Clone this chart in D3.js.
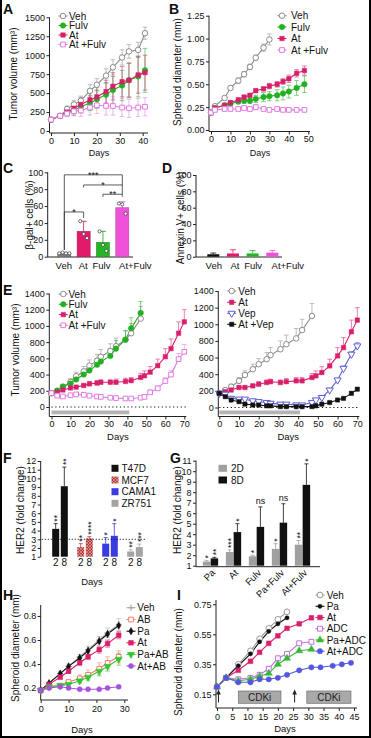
<!DOCTYPE html>
<html><head><meta charset="utf-8">
<script src="https://cdn.jsdelivr.net/npm/d3@7"></script>
<style>
html,body{margin:0;padding:0;background:#fff;}
svg{display:block;}
</style></head><body>
<svg id="fig" width="371" height="738"></svg>
<script>
// ================= DATA =================
// Panel A – tumor volume (mm3)
const aDays = [0,4,7,10,13,17,20,24,27,31,34,38,41];
const aVeh = [150,200,290,350,400,530,610,730,840,970,1050,1070,1290];
const aVehErr = [10,20,40,50,60,80,80,90,100,100,90,100,80];
const aFulv = [150,200,240,270,320,370,420,480,540,600,670,720,800];
const aFulvErr = [10,20,40,60,80,100,120,150,180,200,230,270,290];
const aAt = [150,200,250,300,350,410,450,520,590,650,670,740,770];
const aAtErr = [10,20,40,60,90,110,130,150,180,200,220,240,230];
const aAtFulv = [150,200,230,260,270,310,340,330,330,310,300,310,320];
const aAtFulvErr = [10,20,40,60,80,100,110,120,120,120,120,120,120];
const aXTicks = [0,10,20,30,40];
const aYTicks = [0,250,500,750,1000,1250,1500];

// Panel B – spheroid diameter (mm)
const bVehDays = [0,2,7,10,14,17,20,23,27,30];
const bVeh = [0.19,0.26,0.35,0.46,0.54,0.61,0.69,0.79,0.90,0.99];
const bVehErr = [0.01,0.02,0.02,0.02,0.03,0.03,0.03,0.03,0.04,0.06];
const bDays = [0,2,7,10,14,17,20,23,27,30,34,37,40,44,48];
const bFulv = [0.19,0.24,0.27,0.29,0.31,0.32,0.32,0.34,0.36,0.37,0.38,0.40,0.42,0.46,0.50];
const bFulvErr = [0.01,0.02,0.02,0.02,0.02,0.03,0.03,0.04,0.05,0.05,0.06,0.07,0.07,0.08,0.09];
const bAt = [0.19,0.24,0.27,0.30,0.33,0.36,0.38,0.43,0.45,0.48,0.50,0.53,0.56,0.62,0.65];
const bAtErr = [0.01,0.01,0.01,0.02,0.02,0.02,0.02,0.02,0.02,0.03,0.03,0.03,0.04,0.04,0.05];
const bAtFulv = [0.19,0.22,0.23,0.23,0.23,0.24,0.23,0.25,0.23,0.22,0.23,0.22,0.22,0.22,0.22];
const bAtFulvErr = [0.01,0.02,0.02,0.02,0.02,0.02,0.02,0.03,0.02,0.02,0.02,0.02,0.02,0.02,0.02];
const bXTicks = [0,10,20,30,40,50];
const bYTicks = [0,0.25,0.5,0.75,1.0,1.25];

// Panel C – beta-gal+ cells (%)
const cCats = ["Veh","At","Fulv","At+Fulv"];
const cMeans = [4,30,17,58];
const cErr = [1,12,13,7];
const cPoints = [[4,5,4,4],[42,27,22],[30,14,7],[63,62,51]];
const cSig = [["Veh","At+Fulv","***"],["At","At+Fulv","*"],["Fulv","At+Fulv","**"],["Veh","At","*"]];
const cYTicks = [0,20,40,60,80,100];

// Panel D – Annexin V+ cells (%)
const dMeans = [3,4,4,5];
const dErr = [1.5,4.5,3.5,2.5];

// Panel E – tumor volume, left and right
const eDaysShort = [0,3,6,10,13,17,20,24,26,31,34,39,42,47];
const eDaysLong = [0,3,6,10,13,17,20,24,26,31,34,39,42,47,49,52,56,60,63,67,70];
const eVehL = [170,200,250,310,380,440,510,570,620,690,750,830,910,1090];
const eVehLErr = [10,20,30,40,50,60,70,80,90,90,100,110,120,150];
const eFulvL = [170,200,250,290,340,400,450,520,560,630,720,830,970,1160];
const eFulvLErr = [10,20,20,30,40,50,60,70,80,90,100,110,130,140];
const eAtL = [170,180,210,235,245,265,285,295,305,305,305,315,325,365,385,430,510,620,720,910,1050];
const eAtLErr = [10,20,20,20,20,20,30,30,30,30,40,40,40,50,60,70,80,100,120,140,150];
const eAtFulvL = [170,140,130,145,155,150,140,130,125,115,110,105,105,115,125,180,230,320,400,590,680];
const eAtFulvLErr = [10,10,10,10,10,10,10,10,10,10,10,10,10,20,20,30,30,40,50,70,90];
const eVehR = [170,210,250,320,390,460,520,580,630,700,760,830,930,1100];
const eVehRErr = [10,20,30,40,50,60,70,80,90,100,110,120,130,150];
const eAtR = [170,190,210,240,240,260,280,300,310,300,310,320,320,360,380,420,500,620,720,910,1050];
const eAtRErr = [10,20,20,20,20,20,30,30,30,30,40,40,40,50,60,70,80,100,120,140,150];
const eVepR = [170,160,110,100,100,80,70,60,50,40,40,30,30,60,90,120,210,330,470,640,740];
const eVepRErr = [10,10,10,10,10,10,10,10,10,10,10,10,10,10,10,20,20,20,30,30,40];
const eAtVepR = [170,130,90,70,40,30,30,20,20,10,10,10,10,10,20,40,60,90,110,170,220];
const eAtVepRErr = [10,10,10,10,10,10,10,10,10,10,10,10,10,10,10,10,10,10,10,20,20];
const eTreatment = [0,41];
const eXTicks = [0,10,20,30,40,50,60,70];
const eYTicks = [0,200,400,600,800,1000,1200,1400];

// Panel F – HER2 fold change by cell line
const fLines = ["T47D","MCF7","CAMA1","ZR751"];
const fDays = ["2","8"];
const fVals = [[4.2,9.1],[2.1,3.1],[2.5,3.4],[1.6,2.1]];
const fErr = [[0.6,2.2],[0.4,0.2],[0.7,1.4],[0.2,0.35]];
const fStars = [["**","**"],["**","****"],["*","*"],["**","***"]];
const fThreshold = 3;
const fYTicks = [1,2,3,4,5,6,7,8,9,10,11,12];

// Panel G – HER2 fold change by treatment
const gTreat = ["Pa","At","Fulv","Pa+Fulv","At+Fulv"];
const gSeries = ["2D","8D"];
const g2D = [1.4,2.3,1.9,2.6,3.0];
const g2DErr = [0.1,0.2,0.1,0.5,0.4];
const g8D = [1.7,4.2,4.7,5.1,8.7];
const g8DErr = [0.1,0.8,1.9,1.8,2.0];
const g2DStars = ["*","***","*","*","**"];
const g8DStars = ["**","*","ns","ns","*"];
const gYTicks = [1,2,3,4,5,6,7,8,9,10,11];

// Panel H – spheroid diameter (mm)
const hDays = [0,3,7,10,14,17,21,24,28];
const hVeh = [0.18,0.24,0.32,0.38,0.46,0.52,0.60,0.66,0.73];
const hVehErr = [0.01,0.01,0.02,0.02,0.02,0.03,0.03,0.04,0.05];
const hAB = [0.18,0.21,0.22,0.25,0.28,0.31,0.36,0.41,0.46];
const hABErr = [0.01,0.01,0.01,0.02,0.03,0.04,0.05,0.05,0.05];
const hPa = [0.18,0.24,0.32,0.38,0.45,0.51,0.59,0.65,0.72];
const hAt = [0.18,0.23,0.29,0.34,0.41,0.46,0.52,0.57,0.64];
const hAtErr = [0.01,0.01,0.01,0.02,0.02,0.02,0.03,0.03,0.03];
const hPaAB = [0.18,0.21,0.22,0.23,0.26,0.29,0.34,0.38,0.44];
const hPaABErr = [0.01,0.01,0.01,0.02,0.02,0.03,0.04,0.04,0.05];
const hAtAB = [0.18,0.20,0.21,0.20,0.19,0.19,0.19,0.20,0.21];
const hXTicks = [0,10,20,30];
const hYTicks = [0.2,0.4,0.6,0.8];

// Panel I – spheroid diameter (mm)
const iDays = [0,3,7,11,14,17,20,23,27,31,34,38,41,44];
const iVeh = [0.20,0.26,0.35,0.44,0.52,0.59,0.65,0.70];
const iPa = [0.20,0.26,0.34,0.42,0.50,0.57,0.62,0.66];
const iAt = [0.20,0.26,0.31,0.37,0.43,0.49,0.54,0.59,0.62,0.66];
const iADC = [0.20,0.26,0.25,0.26,0.28,0.32,0.39,0.42,0.49,0.50];
const iPaADC = [0.20,0.26,0.24,0.25,0.27,0.29,0.35,0.39,0.44,0.45];
const iAtADC = [0.20,0.26,0.23,0.23,0.25,0.25,0.26,0.28,0.31,0.33,0.33,0.34,0.35,0.36];
const iADCdoses = [0,25];
const iCDKi = [[7,21],[29.5,44]];
const iXTicks = [0,5,10,15,20,25,30,35,40,45];
const iYTicks = [0.15,0.35,0.55,0.75];

// ================= STYLE / HELPERS =================
const FONT = '"Liberation Sans", Arial, Helvetica, sans-serif';
const AX = '#222';
const C_VEH = '#8c8c8c', C_FULV = '#22b022', C_AT = '#d81f6b', C_ATF = '#e07ce0',
      C_VEP = '#5b5bd6', C_BLK = '#111111';

const svg = d3.select('#fig').attr('font-family', FONT);
const defs = svg.append('defs');
const pat = defs.append('pattern').attr('id','hatch').attr('patternUnits','userSpaceOnUse')
  .attr('width',3).attr('height',3);
pat.append('rect').attr('width',3).attr('height',3).attr('fill','#b53c3c');
pat.append('path').attr('d','M0,0L3,3M3,0L0,3').attr('stroke','#eeaaa4').attr('stroke-width',0.6);

function symPath(shape, size) {
  const s = size || 24;
  if (shape === 'plus') { const r = Math.sqrt(s)/1.5; return `M${-r},0H${r}M0,${-r}V${r}`; }
  const t = {circle:d3.symbolCircle, square:d3.symbolSquare, triUp:d3.symbolTriangle,
             triDown:d3.symbolTriangle, diamond:d3.symbolDiamond}[shape];
  return d3.symbol(t, s)();
}
function marker(g, x, y, s) {
  g.append('path').attr('d', symPath(s.shape, s.size))
    .attr('transform', `translate(${x},${y})` + (s.shape==='triDown' ? ' rotate(180)' : ''))
    .attr('fill', (s.open || s.shape==='plus') ? (s.shape==='plus' ? 'none' : '#fff') : s.color)
    .attr('stroke', s.color).attr('stroke-width', s.shape==='plus' ? 1.2 : (s.open ? 1 : 0.5));
}
function leftAxis(g, y, x0, ticks, fmt, yTop, yBot) {
  const a = g.append('g').attr('transform', `translate(${x0},0)`)
    .call(d3.axisLeft(y).tickValues(ticks).tickFormat(fmt).tickSize(3).tickPadding(1.5));
  a.select('.domain').remove();
  a.append('line').attr('y1', yTop).attr('y2', yBot).attr('stroke', AX);
  a.selectAll('.tick line').attr('stroke', AX);
  a.selectAll('text').attr('font-size', 9).attr('fill', '#111').attr('font-family', FONT);
  return a;
}
function bottomAxis(g, x, y0, ticks, fmt, xL, xR, pad) {
  const a = g.append('g').attr('transform', `translate(0,${y0})`)
    .call(d3.axisBottom(x).tickValues(ticks).tickFormat(fmt).tickSize(3).tickPadding(pad||1.5));
  a.select('.domain').remove();
  a.append('line').attr('x1', xL).attr('x2', xR).attr('stroke', AX);
  a.selectAll('.tick line').attr('stroke', AX);
  a.selectAll('text').attr('font-size', 9).attr('fill', '#111').attr('font-family', FONT);
  return a;
}
function text(g, x, y, s, size, opts) {
  opts = opts || {};
  const t = g.append('text').attr('x', x).attr('y', y).text(s).attr('font-size', size)
    .attr('fill', opts.fill || '#111').attr('font-family', FONT);
  if (opts.anchor) t.attr('text-anchor', opts.anchor);
  if (opts.bold) t.attr('font-weight', 'bold');
  if (opts.dy) t.attr('dy', opts.dy);
  return t;
}
function yTitle(g, x, y, s) {
  return g.append('text').attr('transform', `translate(${x},${y}) rotate(-90)`)
    .attr('text-anchor', 'middle').attr('dy', '0.35em').attr('font-size', 10)
    .attr('fill', '#111').attr('font-family', FONT).text(s);
}
function letter(g, x, y, s) { return text(g, x, y, s, 14, {bold: true}); }

function drawSeries(g, x, y, series, errMode) {
  series.forEach(s => {
    if (!s.err) return;
    s.days.forEach((d, i) => {
      const v = s.vals[i], e = s.err[i];
      if (!e) return;
      const cx = x(d), top = y(v + e), bot = errMode === 'up' ? y(v) : y(v - e);
      const eg = g.append('g').attr('stroke', s.color).attr('stroke-width', 0.8).attr('opacity', 0.7);
      eg.append('line').attr('x1', cx).attr('x2', cx).attr('y1', top).attr('y2', bot);
      eg.append('line').attr('x1', cx - 2.3).attr('x2', cx + 2.3).attr('y1', top).attr('y2', top);
      if (errMode !== 'up') eg.append('line').attr('x1', cx - 2.3).attr('x2', cx + 2.3).attr('y1', bot).attr('y2', bot);
    });
  });
  series.forEach(s => {
    g.append('path').datum(d3.zip(s.days, s.vals))
      .attr('d', d3.line().x(d => x(d[0])).y(d => y(d[1])))
      .attr('fill', 'none').attr('stroke', s.color).attr('stroke-width', 1.1);
  });
  series.forEach(s => s.days.forEach((d, i) => { if (i < s.vals.length) marker(g, x(d), y(s.vals[i]), s); }));
}
function lineLegend(g, series, mx, tx, ys, half) {
  half = half || 4.5;
  series.forEach((s, i) => {
    g.append('line').attr('x1', mx - half).attr('x2', mx + half).attr('y1', ys[i]).attr('y2', ys[i])
      .attr('stroke', s.color).attr('stroke-width', 1.1);
    marker(g, mx, ys[i], s);
    text(g, tx, ys[i], s.name, 10, {dy: '0.35em'});
  });
}
const fmtD = d3.format('d');

// ================= PANEL A =================
{
  const g = svg.append('g');
  const x = d3.scaleLinear([0, 42], [51, 147.3]);
  const y = d3.scaleLinear([0, 1500], [131, 17.3]);
  leftAxis(g, y, 49.5, aYTicks, fmtD, 17.3, 133);
  bottomAxis(g, x, 133, aXTicks, fmtD, 49.5, 148);
  const series = [
    {name:'Veh', days:aDays, vals:aVeh, err:aVehErr, color:C_VEH, shape:'circle', open:true},
    {name:'Fulv', days:aDays, vals:aFulv, err:aFulvErr, color:C_FULV, shape:'circle'},
    {name:'At', days:aDays, vals:aAt, err:aAtErr, color:C_AT, shape:'square', size:20},
    {name:'At +Fulv', days:aDays, vals:aAtFulv, err:aAtFulvErr, color:C_ATF, shape:'square', open:true, size:22}
  ];
  drawSeries(g, x, y, series, 'both');
  lineLegend(g, series, 63, 69, [16, 25.5, 35, 44.5]);
  yTitle(g, 13, 74, 'Tumor volume (mm³)');
  text(g, 99, 156, 'Days', 9, {anchor:'middle'});
  letter(g, 3, 14, 'A');
}

// ================= PANEL B =================
{
  const g = svg.append('g');
  const x = d3.scaleLinear([0, 50], [211, 308.3]);
  const y = d3.scaleLinear([0, 1.25], [130, 15.7]);
  leftAxis(g, y, 209, bYTicks, d3.format('.2f'), 15.7, 131.5);
  bottomAxis(g, x, 131.5, bXTicks, fmtD, 209, 310);
  const series = [
    {name:'Veh', days:bVehDays, vals:bVeh, err:bVehErr, color:C_VEH, shape:'circle', open:true},
    {name:'Fulv', days:bDays, vals:bFulv, err:bFulvErr, color:C_FULV, shape:'circle'},
    {name:'At', days:bDays, vals:bAt, err:bAtErr, color:C_AT, shape:'square', size:20},
    {name:'At +Fulv', days:bDays, vals:bAtFulv, err:bAtFulvErr, color:C_ATF, shape:'square', open:true, size:22}
  ];
  drawSeries(g, x, y, series, 'both');
  lineLegend(g, series, 282, 291, [15.7, 27, 38.5, 50]);
  yTitle(g, 177, 72, 'Spheroid diameter (mm)');
  text(g, 260, 156, 'Days', 9, {anchor:'middle'});
  letter(g, 169, 14, 'B');
}

// category-label nudges (layout only), C and D
const cLabelDx = [-1, -1, -2, 12.5];
const dLabelDx = [0, 1.5, 0, 15];

// ================= PANEL C =================
const barColors = ['#7f7f7f', '#e3196b', '#23b523', '#ee52d8'];
{
  const g = svg.append('g');
  const x = d3.scalePoint(cCats, [64.3, 122.3]);
  const y = d3.scaleLinear([0, 100], [256.7, 172.3]);
  leftAxis(g, y, 47.7, cYTicks, fmtD, 172.3, 257);
  const xa = bottomAxis(g, x, 257, cCats, d => d, 47.7, 133, 2.5);
  xa.selectAll('.tick line').remove();
  xa.selectAll('text').attr('font-size', 9.5).attr('dx', (d, i) => cLabelDx[i]);
  const bw = 13;
  cCats.forEach((c, i) => {
    const cx = x(c), col = barColors[i];
    g.append('rect').attr('x', cx - bw/2).attr('y', y(cMeans[i])).attr('width', bw)
      .attr('height', y(0) - y(cMeans[i])).attr('fill', col).attr('stroke', d3.color(col).darker(0.6)).attr('stroke-width', 0.6);
    const top = y(cMeans[i] + cErr[i]);
    g.append('line').attr('x1', cx).attr('x2', cx).attr('y1', top).attr('y2', y(cMeans[i])).attr('stroke', d3.color(col).darker(0.4)).attr('stroke-width', 0.8);
    g.append('line').attr('x1', cx - 3).attr('x2', cx + 3).attr('y1', top).attr('y2', top).attr('stroke', d3.color(col).darker(0.4)).attr('stroke-width', 0.8);
    const pts = cPoints[i], n = pts.length;
    pts.forEach((v, j) => {
      g.append('circle').attr('cx', cx + (j - (n - 1)/2) * 3.4).attr('cy', y(v)).attr('r', 1.6)
        .attr('fill', '#fff').attr('stroke', '#333').attr('stroke-width', 0.7);
    });
  });
  // significance brackets: [level, left-leg end, right-leg end] in axis units
  const lv = [[97, 8, 85], [85, 82, 74], [74, 71, 71], [53, 8, 46]];
  cSig.forEach((s, k) => {
    const x1 = x(s[0]), x2 = x(s[1]), yy = y(lv[k][0]);
    g.append('path').attr('d', `M${x1},${y(lv[k][1])}V${yy}H${x2}V${y(lv[k][2])}`)
      .attr('fill', 'none').attr('stroke', '#333').attr('stroke-width', 0.8);
    text(g, (x1 + x2)/2, yy + 3, s[2], 9, {anchor:'middle'});
  });
  yTitle(g, 29, 215, 'β-gal+ cells (%)');
  letter(g, 3, 173, 'C');
}

// ================= PANEL D =================
{
  const g = svg.append('g');
  const x = d3.scalePoint(cCats, [213.3, 272.3]);
  const y = d3.scaleLinear([0, 100], [256.7, 175]);
  leftAxis(g, y, 196, cYTicks, fmtD, 175, 257);
  const xa = bottomAxis(g, x, 257, cCats, d => d, 196, 282, 2.5);
  xa.selectAll('.tick line').remove();
  xa.selectAll('text').attr('font-size', 9.5).attr('dx', (d, i) => dLabelDx[i]);
  const dColors = ['#111', '#e3196b', '#23b523', '#ee52d8'];
  const bw = 12;
  cCats.forEach((c, i) => {
    const cx = x(c), col = dColors[i];
    g.append('rect').attr('x', cx - bw/2).attr('y', y(dMeans[i])).attr('width', bw)
      .attr('height', y(0) - y(dMeans[i])).attr('fill', col);
    const top = y(dMeans[i] + dErr[i]);
    g.append('line').attr('x1', cx).attr('x2', cx).attr('y1', top).attr('y2', y(dMeans[i])).attr('stroke', col).attr('stroke-width', 0.8);
    g.append('line').attr('x1', cx - 3).attr('x2', cx + 3).attr('y1', top).attr('y2', top).attr('stroke', col).attr('stroke-width', 0.8);
  });
  yTitle(g, 180, 218, 'Annexin V+ cells (%)');
  letter(g, 162, 173, 'D');
}

// ================= PANEL E =================
function ePanel(cfg) {
  const g = svg.append('g');
  const x = d3.scaleLinear([0, 70], cfg.xr);
  const y = d3.scaleLinear([0, 1400], cfg.yr);
  leftAxis(g, y, cfg.ax, eYTicks, fmtD, cfg.yr[1], 416.5);
  bottomAxis(g, x, 416.5, eXTicks, fmtD, cfg.ax, cfg.xr[1] + 2);
  g.append('line').attr('x1', x(0)).attr('x2', x(70) + 2).attr('y1', y(0)).attr('y2', y(0))
    .attr('stroke', '#111').attr('stroke-width', 1).attr('stroke-dasharray', '1.2,2.6');
  g.append('rect').attr('x', x(eTreatment[0])).attr('y', 410.5).attr('width', x(eTreatment[1]) - x(eTreatment[0]))
    .attr('height', 3.8).attr('fill', '#b4b4b4');
  drawSeries(g, x, y, cfg.series, 'up');
  lineLegend(g, cfg.series, cfg.lx, cfg.tx, cfg.ly);
  text(g, (cfg.xr[0] + cfg.xr[1])/2, 440, 'Days', 9.5, {anchor:'middle'});
  return g;
}
{
  const g = ePanel({xr:[51.5, 184.3], yr:[407, 293.5], ax:49.3, lx:63.3, tx:68.5, ly:[294, 304.3, 314.6, 325.3],
    series:[
      {name:'Veh', days:eDaysShort, vals:eVehL, err:eVehLErr, color:C_VEH, shape:'circle', open:true},
      {name:'Fulv', days:eDaysShort, vals:eFulvL, err:eFulvLErr, color:C_FULV, shape:'circle'},
      {name:'At', days:eDaysLong, vals:eAtL, err:eAtLErr, color:C_AT, shape:'square', size:20},
      {name:'At +Fulv', days:eDaysLong, vals:eAtFulvL, err:eAtFulvLErr, color:C_ATF, shape:'square', open:true, size:22}
    ]});
  yTitle(g, 15, 350, 'Tumor volume (mm³)');
  letter(g, 3, 295, 'E');
  ePanel({xr:[219.3, 357.3], yr:[407.5, 291], ax:218.3, lx:231.7, tx:238.3, ly:[291, 302.3, 313.3, 324.3],
    series:[
      {name:'Veh', days:eDaysShort, vals:eVehR, err:eVehRErr, color:C_VEH, shape:'circle', open:true},
      {name:'At', days:eDaysLong, vals:eAtR, err:eAtRErr, color:C_AT, shape:'square', size:20},
      {name:'Vep', days:eDaysLong, vals:eVepR, err:eVepRErr, color:C_VEP, shape:'triDown', open:true, size:22},
      {name:'At +Vep', days:eDaysLong, vals:eAtVepR, err:eAtVepRErr, color:C_BLK, shape:'square', size:18}
    ]});
}

// ================= PANEL F =================
function vStar(g, x, yTop, s) {
  return g.append('text').attr('transform', `translate(${x},${yTop}) rotate(-90)`)
    .attr('dy', '0.56em').attr('font-size', 8.5).attr('fill', '#111').attr('font-family', FONT).text(s);
}
{
  const g = svg.append('g');
  const xg = d3.scaleBand(fLines, [47.5, 147.5]);
  const xi = d3.scalePoint(fDays, [-4.3, 4.3]);
  const y = d3.scaleLinear([1, 12], [556.7, 461]);
  leftAxis(g, y, 40.7, fYTicks, fmtD, 461, 557);
  const fFills = ['#111', 'url(#hatch)', '#3b3be2', '#a3a3a3'];
  const fStroke = ['#111', '#b53c3c', '#3b3be2', '#a3a3a3'];
  const bw = 7;
  fLines.forEach((ln, i) => {
    fDays.forEach((d, j) => {
      const cx = xg(ln) + xg.bandwidth()/2 + xi(d), v = fVals[i][j], e = fErr[i][j];
      g.append('rect').attr('x', cx - bw/2).attr('y', y(v)).attr('width', bw).attr('height', y(1) - y(v))
        .attr('fill', fFills[i]);
      const top = y(v + e);
      g.append('line').attr('x1', cx).attr('x2', cx).attr('y1', top).attr('y2', y(v)).attr('stroke', fStroke[i]).attr('stroke-width', 0.8);
      g.append('line').attr('x1', cx - 2).attr('x2', cx + 2).attr('y1', top).attr('y2', top).attr('stroke', fStroke[i]).attr('stroke-width', 0.8);
      vStar(g, cx, top - 2, fStars[i][j]);
      text(g, cx, 565.5, d, 10, {anchor:'middle'});
    });
  });
  g.append('line').attr('x1', 41.7).attr('x2', 146.7).attr('y1', y(fThreshold)).attr('y2', y(fThreshold))
    .attr('stroke', '#111').attr('stroke-width', 0.9).attr('stroke-dasharray', '1.2,1.8');
  const ly = [468.3, 480, 491.7, 503.3];
  fLines.forEach((ln, i) => {
    g.append('rect').attr('x', 111.5).attr('y', ly[i] - 3.5).attr('width', 7).attr('height', 7).attr('fill', fFills[i]);
    text(g, 121.5, ly[i], ln, 10, {dy:'0.35em'});
  });
  yTitle(g, 20, 510, 'HER2 (fold change)');
  text(g, 92, 585, 'Days', 9.5, {anchor:'middle'});
  letter(g, 3, 463, 'F');
}

// ================= PANEL G =================
{
  const g = svg.append('g');
  const xg = d3.scaleBand(gTreat, [199, 314]);
  const xi = d3.scalePoint(gSeries, [-3.9, 3.9]);
  const y = d3.scaleLinear([1, 11], [565.7, 460.7]);
  leftAxis(g, y, 196, gYTicks, fmtD, 460.7, 566.7);
  g.append('line').attr('x1', 196).attr('x2', 320).attr('y1', 566.7).attr('y2', 566.7).attr('stroke', AX);
  const vals = [g2D, g8D], errs = [g2DErr, g8DErr], stars = [g2DStars, g8DStars];
  const cols = ['#a0a0a0', '#111'];
  const bw = 7.5;
  gTreat.forEach((t, i) => {
    gSeries.forEach((sname, j) => {
      const cx = xg(t) + xg.bandwidth()/2 + xi(sname), v = vals[j][i], e = errs[j][i];
      g.append('rect').attr('x', cx - bw/2).attr('y', y(v)).attr('width', bw).attr('height', y(1) - y(v)).attr('fill', cols[j]);
      const top = y(v + e);
      g.append('line').attr('x1', cx).attr('x2', cx).attr('y1', top).attr('y2', y(v)).attr('stroke', cols[j]).attr('stroke-width', 0.8);
      g.append('line').attr('x1', cx - 2).attr('x2', cx + 2).attr('y1', top).attr('y2', top).attr('stroke', cols[j]).attr('stroke-width', 0.8);
      const st = stars[j][i];
      if (st === 'ns') text(g, cx, top - 2.5, st, 9, {anchor:'middle'});
      else vStar(g, cx, top - 2, st);
    });
    const c = xg(t) + xg.bandwidth()/2;
    g.append('text').attr('transform', `translate(${c + 3},${571}) rotate(-45)`).attr('text-anchor', 'end')
      .attr('dy', '0.35em').attr('font-size', 9.5).attr('fill', '#111').attr('font-family', FONT).text(t);
  });
  const ly = [468.3, 480];
  gSeries.forEach((sname, j) => {
    g.append('rect').attr('x', 218.5).attr('y', ly[j] - 3.5).attr('width', 8.5).attr('height', 7).attr('fill', cols[j]);
    text(g, 231, ly[j], sname, 10, {dy:'0.35em'});
  });
  yTitle(g, 177, 510, 'HER2 (fold change)');
  letter(g, 170, 463, 'G');
}

// ================= PANEL H =================
{
  const g = svg.append('g');
  const x = d3.scaleLinear([0, 30], [40.7, 124.3]);
  const y = d3.scaleLinear([0.1, 0.9], [700, 604]);
  leftAxis(g, y, 40.7, hYTicks, d3.format('.1f'), 605, 700);
  bottomAxis(g, x, 700, hXTicks, fmtD, 40.7, 128, 3);
  const series = [
    {name:'Veh', days:hDays, vals:hVeh, err:hVehErr, color:'#a8a8a8', shape:'plus', size:22},
    {name:'AB', days:hDays, vals:hAB, err:hABErr, color:'#f0806c', shape:'square', open:true, size:22},
    {name:'Pa', days:hDays, vals:hPa, color:C_BLK, shape:'diamond', size:16},
    {name:'At', days:hDays, vals:hAt, err:hAtErr, color:C_AT, shape:'square', size:22},
    {name:'Pa+AB', days:hDays, vals:hPaAB, err:hPaABErr, color:'#33c433', shape:'triDown', size:22},
    {name:'At+AB', days:hDays, vals:hAtAB, color:'#a552e0', shape:'circle', size:20}
  ];
  drawSeries(g, x, y, series, 'both');
  lineLegend(g, series, 131, 137.3, [607.7, 619.5, 631.2, 642.8, 654.4, 666]);
  yTitle(g, 15, 648, 'Spheroid diameter (mm)');
  text(g, 82, 733, 'Days', 9.5, {anchor:'middle'});
  letter(g, 3, 600, 'H');
}

// ================= PANEL I =================
{
  const g = svg.append('g');
  const x = d3.scaleLinear([0, 45], [217, 354]);
  const y = d3.scaleLinear([0.15, 0.75], [694.3, 604.3]);
  leftAxis(g, y, 216, iYTicks, d3.format('.2f'), 600, 708);
  bottomAxis(g, x, 708, iXTicks, fmtD, 216, 357, 3);
  iCDKi.forEach(p => {
    g.append('rect').attr('x', x(p[0])).attr('y', 691).attr('width', x(p[1]) - x(p[0])).attr('height', 12.3)
      .attr('fill', '#a9a9a9').attr('stroke', '#707070').attr('stroke-width', 0.7);
    text(g, (x(p[0]) + x(p[1]))/2, 697.2, 'CDKi', 10, {anchor:'middle', dy:'0.35em', fill:'#222'});
  });
  iADCdoses.forEach(d => {
    const ax = x(d) + 1.5;
    g.append('line').attr('x1', ax).attr('x2', ax).attr('y1', 702.5).attr('y2', 691).attr('stroke', '#222').attr('stroke-width', 1);
    g.append('path').attr('d', `M${ax - 2.3},${694.5}L${ax},${689.5}L${ax + 2.3},${694.5}Z`).attr('fill', '#222');
  });
  const series = [
    {name:'Veh', days:iDays.slice(0, iVeh.length), vals:iVeh, color:'#9a9a9a', shape:'circle', open:true, size:26},
    {name:'Pa', days:iDays.slice(0, iPa.length), vals:iPa, color:C_BLK, shape:'circle', size:14},
    {name:'At', days:iDays.slice(0, iAt.length), vals:iAt, color:C_AT, shape:'square', size:22},
    {name:'ADC', days:iDays.slice(0, iADC.length), vals:iADC, color:'#c070e0', shape:'square', open:true, size:24},
    {name:'Pa+ADC', days:iDays.slice(0, iPaADC.length), vals:iPaADC, color:'#36b836', shape:'triUp', size:22},
    {name:'At+ADC', days:iDays, vals:iAtADC, color:'#5555e0', shape:'circle', size:22}
  ];
  drawSeries(g, x, y, series, 'both');
  lineLegend(g, series, 320, 326.7, [595, 606.3, 617.5, 628.7, 640, 651.2]);
  yTitle(g, 178, 662, 'Spheroid diameter (mm)');
  text(g, 285, 731.5, 'Days', 9.5, {anchor:'middle'});
  letter(g, 177, 600, 'I');
}

// frame
svg.append('path').attr('d', 'M1,0V737H370V0').attr('fill', 'none').attr('stroke', '#000').attr('stroke-width', 2);
</script>
</body></html>
